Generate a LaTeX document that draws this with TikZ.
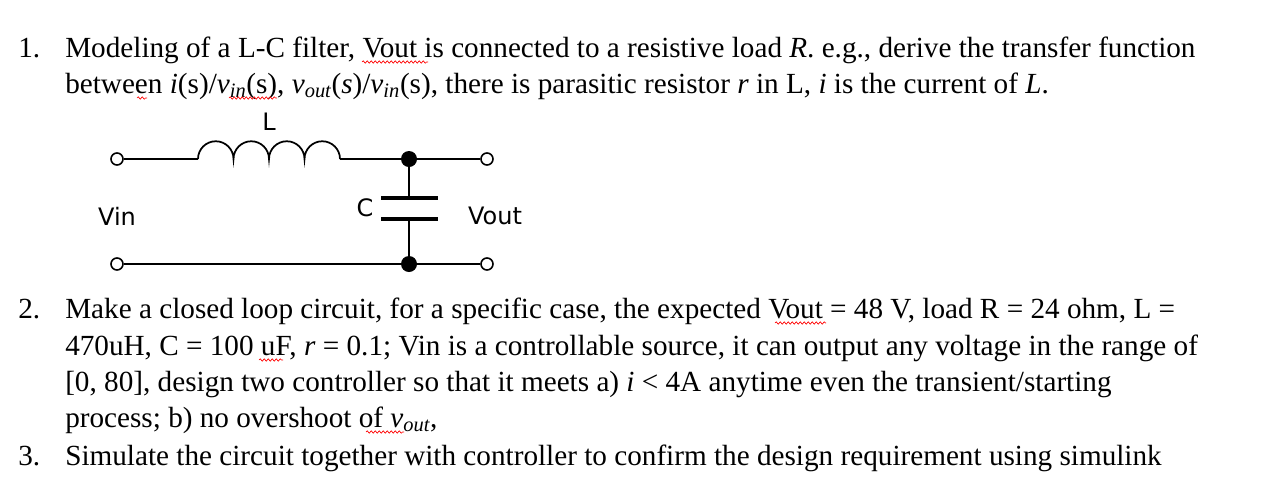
\documentclass[tikz,border=0pt]{standalone}
\usepackage{fontspec}
\setmainfont{Liberation Serif}
\newfontfamily\circfont{DejaVu Sans}
\usetikzlibrary{decorations.pathmorphing}
\begin{document}
\begin{tikzpicture}[x=0.75pt,y=-0.75pt,
  txt/.style={anchor=base west,inner sep=0pt,font=\fontsize{21.9}{26}\selectfont},
  lbl/.style={inner sep=0pt,font=\circfont\fontsize{18}{22}\selectfont},
  term/.style={circle,draw,line width=1.2pt,fill=white,minimum size=12pt*0.75,inner sep=0pt},
  dotn/.style={circle,fill=black,minimum size=16pt*0.75,inner sep=0pt},
  wire/.style={line width=1.3pt},
  squig/.style={red,line width=0.5pt,decorate,decoration={snake,amplitude=0.9pt,segment length=3pt}}]
\useasboundingbox (0,0) rectangle (1268,494);
% text
\node[txt] (n1) at (18,57) {1.};
\node[txt] (l1) at (65,57) {Modeling of a L-C filter, Vout is connected to a resistive load \textit{R}. e.g., derive the transfer function};
\node[txt] (l2) at (65,93) {between \textit{i}(s)/\textit{v\textsubscript{in}}(s), \textit{v\textsubscript{out}}(\textit{s})/\textit{v\textsubscript{in}}(s), there is parasitic resistor \textit{r} in L, \textit{i} is the current of \textit{L}.};
\node[txt] (n2) at (18,318) {2.};
\node[txt] (m1) at (65,318) {Make a closed loop circuit, for a specific case, the expected Vout = 48 V, load R = 24 ohm, L =};
\node[txt] (m2) at (65,355) {470uH, C = 100 uF, \textit{r} = 0.1; Vin is a controllable source, it can output any voltage in the range of};
\node[txt] (m3) at (65,391) {[0, 80], design two controller so that it meets a) \textit{i} {\textless} 4A anytime even the transient/starting};
\node[txt] (m4) at (65,427) {process; b) no overshoot of \textit{v\textsubscript{out}},};
\node[txt] (n3) at (18,465) {3.};
\node[txt] (m5) at (65,465) {Simulate the circuit together with controller to confirm the design requirement using simulink};
% spell-check squiggles
\draw[squig] (362,62) -- (428,62);
\draw[squig] (137,98) -- (147,98);
\draw[squig] (229,98) -- (277,98);
\draw[squig] (775,323) -- (826,323);
\draw[squig] (259,360) -- (283,360);
\draw[squig] (366,432) -- (404,432);
% circuit
\coordinate (li) at (198,159);
\coordinate (lo) at (340,159);
\node[term] (a) at (117,159) {};
\node[term] (b) at (117,264) {};
\node[dotn] (t) at (409,159) {};
\node[dotn] (g) at (409,264) {};
\node[term] (c) at (487,159) {};
\node[term] (d) at (487,264) {};
\coordinate (p1) at (409,198);
\coordinate (p2) at (409,219);
\draw[wire] (a) -- (li);
\draw[wire] (li) arc[start angle=180,end angle=360,radius=17.75] arc[start angle=180,end angle=360,radius=17.75] arc[start angle=180,end angle=360,radius=17.75] arc[start angle=180,end angle=360,radius=17.75];
\draw[wire] (lo) -- (t) -- (c);
\draw[wire] (b) -- (g) -- (d);
\draw[wire] (t) -- (p1);
\draw[wire] (g) -- (p2);
\draw[line width=3.5pt] (381,198) -- (438,198);
\draw[line width=3.5pt] (381,219) -- (438,219);
\node[lbl] (L) at (269,122) {L};
\node[lbl] (C) at (365,208) {C};
\node[lbl] (vin) at (117,216) {Vin};
\node[lbl] (vout) at (495,216) {Vout};
\end{tikzpicture}
\end{document}
